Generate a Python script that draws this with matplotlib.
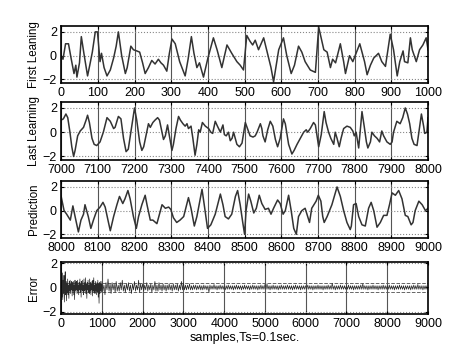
import numpy as np
import matplotlib
matplotlib.use('Agg')
import matplotlib.pyplot as plt

# ---- data ----
first_x = [0, 5, 12, 20, 27, 35, 40, 43, 50, 55, 62, 72, 78, 85, 93, 99, 106, 110, 117, 125,
           134, 143, 150, 156, 165, 175, 180, 190, 197, 206, 214, 222, 229, 238, 247, 256,
           265, 272, 279, 288, 295, 302, 311, 323, 338, 346, 355, 362, 370, 377, 388, 400,
           415, 425, 438, 452, 465, 479, 488, 497, 506, 515, 522, 529, 538, 552, 560, 572,
           579, 593, 606, 615, 627, 636, 647, 656, 665, 679, 693, 702, 716, 725, 734, 740,
           748, 757, 761, 770, 775, 786, 795, 814, 827, 834, 843, 852, 865, 874, 884, 897,
           906, 916, 923, 932, 936, 945, 952, 957, 968, 977, 986, 995, 1000]
first_y = [0.0, -0.3, 1.0, 1.0, -0.2, -1.5, -0.8, -1.8, -0.6, 1.6, 0.2, -1.7, -0.8, 0.3, 2.0, 2.0,
           -0.5, 0.2, -1.0, -1.7, -1.2, -0.2, 0.8, 2.0, 0.0, -1.5, -1.0, 0.8, 0.5, 0.4, 0.3, -0.6,
           -1.5, -1.0, -0.4, -0.7, -0.3, -0.6, -0.8, -1.3, 0.2, 1.4, 1.0, -0.5, -1.7, -0.3, 1.6,
           0.2, -1.0, -0.6, -1.8, -0.2, 1.5, 0.5, -1.0, 0.9, 0.2, -0.5, -0.8, -1.2, 1.7, 1.2, 0.9,
           1.3, 0.5, 1.5, 0.5, -1.0, -2.2, 0.5, 1.5, 0.0, -1.5, -0.8, 0.8, 0.3, -0.5, -1.2, -1.4,
           2.4, 0.5, 0.3, -1.0, -0.3, -0.6, 0.5, 1.0, -0.5, -1.5, 0.0, -0.5, 1.0, -0.5, -1.6,
           -0.8, -0.2, 0.2, -0.5, -0.9, 1.8, 0.5, -1.7, -0.5, 0.4, -0.5, -0.6, 1.5, 0.5, -0.5,
           0.5, 0.9, 1.5, 0.5]

last_x = [7000, 7006, 7013, 7018, 7024, 7029, 7034, 7038, 7045, 7052, 7061, 7068, 7072, 7077,
          7084, 7090, 7097, 7106, 7115, 7125, 7134, 7143, 7147, 7156, 7163, 7170, 7177, 7183,
          7190, 7200, 7206, 7214, 7220, 7225, 7232, 7238, 7243, 7250, 7256, 7263, 7268, 7275,
          7279, 7284, 7290, 7295, 7302, 7306, 7313, 7320, 7325, 7332, 7338, 7343, 7347, 7354,
          7359, 7365, 7370, 7375, 7379, 7385, 7393, 7402, 7408, 7413, 7420, 7426, 7434, 7441,
          7445, 7450, 7456, 7461, 7466, 7470, 7479, 7486, 7493, 7502, 7508, 7515, 7523, 7529,
          7534, 7543, 7547, 7550, 7556, 7563, 7570, 7577, 7584, 7590, 7597, 7606, 7611, 7620,
          7629, 7635, 7643, 7652, 7661, 7668, 7672, 7679, 7688, 7693, 7702, 7709, 7717, 7722,
          7729, 7735, 7743, 7747, 7752, 7758, 7763, 7770, 7779, 7788, 7795, 7799, 7804, 7811,
          7815, 7820, 7826, 7832, 7836, 7843, 7847, 7854, 7861, 7868, 7874, 7879, 7888, 7897,
          7902, 7906, 7915, 7924, 7931, 7938, 7944, 7950, 7956, 7962, 7970, 7982, 7988, 7991,
          7997, 8000]
last_y = [1.0, 1.1, 1.5, 1.2, 0.0, -1.2, -2.0, -1.5, -0.3, 0.1, 0.4, 1.0, 1.4, 0.8, -0.5, -1.0,
          -1.1, -0.8, 0.0, 1.2, 0.9, 0.3, 0.4, 1.3, 1.1, -0.5, -1.6, -1.4, 0.0, 2.0, 1.0, -0.8,
          -1.5, -1.2, -0.2, 0.7, 0.4, 0.8, 1.0, 1.2, 1.0, 0.0, -0.6, -0.3, 0.6, -0.3, -1.5,
          -1.0, 0.3, 1.3, 1.0, 0.7, 0.5, 0.7, 0.3, 0.5, -0.5, -1.9, -1.0, 0.2, 0.0, 0.8, 0.5,
          0.3, 0.0, -0.1, 0.9, 0.5, 0.0, 0.6, -0.2, -0.3, 0.0, -0.7, -0.5, 0.0, -1.0, -1.2,
          -0.9, 0.8, 0.3, -0.3, -0.4, -0.3, 0.0, 0.7, 0.3, -0.3, -0.8, 0.2, 0.9, 0.5, -0.6,
          -1.2, -0.5, 1.1, 0.7, -1.0, -1.8, -1.5, -1.0, -0.5, 0.0, 0.2, 0.0, 0.3, 0.8, 0.6,
          -1.2, -0.2, 1.7, 0.8, 0.0, -0.5, -1.0, 0.0, -0.5, -1.2, -0.5, 0.3, 0.5, 0.4, 0.1,
          -0.3, 0.0, -1.3, 0.0, 1.7, 0.5, -0.8, -1.3, -0.8, 0.0, -0.3, -0.5, -0.8, 0.1, -0.3,
          -0.8, -1.0, -0.8, 0.0, 0.9, 0.7, 1.2, 2.0, 1.5, 0.7, -0.5, -1.0, -1.1, 1.5, 0.5,
          -0.1, 0.0, 1.2]

pred_x = [8000, 8008, 8015, 8025, 8032, 8038, 8047, 8054, 8061, 8065, 8074, 8081, 8088, 8097,
          8106, 8114, 8120, 8129, 8134, 8143, 8152, 8159, 8168, 8174, 8182, 8188, 8197, 8205,
          8211, 8220, 8229, 8234, 8243, 8250, 8261, 8268, 8275, 8284, 8293, 8299, 8306, 8315,
          8324, 8334, 8347, 8354, 8363, 8370, 8384, 8390, 8399, 8408, 8420, 8434, 8441, 8447,
          8456, 8465, 8475, 8481, 8488, 8495, 8500, 8504, 8511, 8517, 8525, 8532, 8540, 8547,
          8556, 8565, 8572, 8579, 8590, 8597, 8605, 8611, 8620, 8627, 8634, 8641, 8647, 8656,
          8665, 8670, 8677, 8683, 8695, 8701, 8708, 8713, 8717, 8725, 8738, 8752, 8761, 8770,
          8779, 8788, 8791, 8797, 8804, 8811, 8820, 8829, 8838, 8845, 8852, 8861, 8870, 8879,
          8888, 8895, 8902, 8911, 8920, 8929, 8938, 8945, 8954, 8959, 8965, 8975, 8984, 8993,
          9000]
pred_y = [1.2, 0.0, -0.3, -0.8, 0.4, -0.5, -1.8, -0.8, -0.3, 0.5, -0.5, -1.5, -0.8, 0.0, 0.3,
          0.7, 0.3, -1.0, -1.7, -0.5, 0.5, 1.2, 0.6, 1.0, 1.7, 1.0, -0.5, -1.5, -0.5, 0.5, 1.3,
          0.5, -0.8, -0.8, -1.1, -0.3, 0.5, 0.2, 0.3, 0.1, -0.6, -1.0, -0.8, -0.5, 1.1, 0.2,
          -1.3, -0.5, 1.8, 0.5, -1.5, -1.2, -0.3, 1.4, 0.5, -0.5, -0.7, -0.3, 1.2, 1.7, 0.5,
          -1.0, -2.0, 0.0, 1.4, 0.8, -0.2, 0.2, 1.3, 0.6, 0.1, 0.2, -0.3, 0.2, 0.9, 0.6, -0.3,
          0.0, 1.3, 0.0, -1.5, -2.0, -0.5, 0.0, 0.2, -0.3, -1.0, 0.2, 0.8, 1.3, 0.8, -0.5, -1.0,
          -0.5, 0.5, 2.0, 1.2, 0.0, -1.0, -1.6, -1.3, 0.5, 0.6, -0.5, -1.2, -1.3, 0.2, 0.7, 0.0,
          -1.4, -1.0, -0.4, -0.4, 0.5, 1.5, 1.3, 1.7, 1.0, -0.4, -0.5, -1.2, -1.0, 0.0, 0.8,
          0.5, 0.0, 0.2]

# error: step 10 for samples 0..990, then step 25 from 1000 to 9000
err_early = [0.0, 1.6, -0.8, 1.2, -1.0, 0.6, -0.5, 1.0, -1.2, 0.4,
             1.3, -0.6, 0.5, -1.1, 0.3, -0.4, 0.7, -0.6, 0.2, -0.9,
             0.5, -0.3, 0.6, -0.5, 0.3, -0.2, 0.5, -0.7, 0.4, -0.3,
             0.5, -0.6, 0.2, -1.0, 0.6, -0.3, 0.4, -0.2, 0.5, -0.5,
             0.6, -0.3, 0.2, -0.6, 0.4, -0.2, 0.7, -0.4, 0.3, -0.8,
             0.5, -0.2, 0.6, -0.3, 0.2, -0.6, 0.7, -0.3, 0.4, -0.2,
             0.8, -0.5, 0.3, -0.9, 0.4, -0.2, 0.6, -0.4, 0.2, -0.5,
             0.7, -0.3, 0.4, -0.6, 0.3, -0.2, 0.5, -0.7, 0.6, -0.3,
             0.8, -0.4, 0.2, -0.5, 0.5, -0.3, 0.3, -0.6, 0.4, -0.4,
             0.6, -0.8, 0.3, -1.3, 0.4, -0.5, 0.5, -0.3, 0.3, -0.4]
err_late = [
    0.5, -0.3, 0.2, -0.6, 0.4, -0.2, 0.7, -0.3, 0.3, -0.5, 0.4, -0.2, 0.3, -0.4, 0.5, -0.3, 0.2, -0.3, 0.4, -0.2,
    0.6, -0.3, 0.2, -0.4, 0.3, -0.2, 0.4, -0.3, 0.2, -0.5, 0.3, -0.2, 0.5, -0.3, 0.2, -0.2, 0.6, -0.4, 0.3, -0.2,
    0.3, -0.3, 0.2, -0.2, 0.4, -0.3, 0.2, -0.2, 0.3, -0.4, 0.2, -0.2, 0.5, -0.3, 0.2, -0.3, 0.4, -0.2, 0.2, -0.3,
    0.3, -0.2, 0.2, -0.3, 0.2, -0.2, 0.3, -0.2, 0.2, -0.3, 0.3, -0.2, 0.2, -0.2, 0.3, -0.3, 0.2, -0.2, 0.5, -0.2,
    0.4, -0.2, 0.2, -0.2, 0.2, -0.15, 0.3, -0.2, 0.15, -0.2, 0.2, -0.15, 0.2, -0.2, 0.15, -0.15, 0.2, -0.2, 0.15, -0.2,
    0.2, -0.15, 0.15, -0.2, 0.15, -0.4, 0.2, -0.15, 0.15, -0.15, 0.25, -0.15, 0.15, -0.2, 0.15, -0.15, 0.2, -0.15, 0.15, -0.15,
    0.15, -0.2, 0.15, -0.15, 0.2, -0.15, 0.15, -0.15, 0.15, -0.2, 0.15, -0.15, 0.2, -0.15, 0.15, -0.15, 0.15, -0.2, 0.15, -0.15,
    0.2, -0.15, 0.15, -0.15, 0.15, -0.2, 0.15, -0.15, 0.2, -0.15, 0.15, -0.15, 0.15, -0.2, 0.15, -0.15, 0.2, -0.15, 0.15, -0.15,
    0.25, -0.15, 0.3, -0.15, 0.15, -0.2, 0.15, -0.15, 0.2, -0.15, 0.15, -0.15, 0.15, -0.2, 0.15, -0.15, 0.2, -0.15, 0.15, -0.15,
    0.15, -0.15, 0.2, -0.15, 0.15, -0.15, 0.15, -0.2, 0.15, -0.15, 0.2, -0.15, 0.15, -0.15, 0.15, -0.2, 0.15, -0.15, 0.15, -0.15,
    0.15, -0.15, 0.2, -0.15, 0.15, -0.15, 0.15, -0.2, 0.15, -0.15, 0.15, -0.15, 0.2, -0.15, 0.15, -0.15, 0.15, -0.2, 0.15, -0.15,
    0.15, -0.15, 0.2, -0.15, 0.15, -0.15, 0.35, -0.15, 0.15, -0.2, 0.15, -0.15, 0.15, -0.15, 0.2, -0.15, 0.15, -0.15, 0.15, -0.15,
    0.15, -0.15, 0.2, -0.15, 0.15, -0.15, 0.15, -0.2, 0.15, -0.15, 0.15, -0.15, 0.15, -0.15, 0.2, -0.15, 0.3, -0.15, 0.15, -0.15,
    0.15, -0.2, 0.15, -0.15, 0.15, -0.15, 0.2, -0.15, 0.15, -0.15, 0.15, -0.2, 0.15, -0.15, 0.15, -0.15, 0.2, -0.15, 0.15, -0.15,
    0.15, -0.15, 0.2, -0.15, 0.15, -0.15, 0.15, -0.2, 0.15, -0.15, 0.15, -0.15, 0.2, -0.15, 0.15, -0.15, 0.15, -0.2, 0.15, -0.15,
    0.15, -0.15, 0.15, -0.2, 0.15, -0.15, 0.2, -0.15, 0.15, -0.15, 0.25, -0.15, 0.15, -0.15, 0.15, -0.2, 0.15, -0.15, 0.15, -0.15,
    0.0]
err_x = list(np.arange(len(err_early)) * 10) + list(1000 + np.arange(len(err_late)) * 25)
err_y = err_early + err_late

panels = [
    (first_x, first_y, 'First Leaning', (0, 1000), np.arange(0, 1001, 100)),
    (last_x, last_y, 'Last Learning', (7000, 8000), np.arange(7000, 8001, 100)),
    (pred_x, pred_y, 'Prediction', (8000, 9000), np.arange(8000, 9001, 100)),
    (err_x, err_y, 'Error', (0, 9000), np.arange(0, 9001, 1000)),
]

# axes boxes in figure fractions (left, bottom, width, height)
boxes = [
    (0.129, 0.766, 0.774, 0.161),
    (0.129, 0.549, 0.774, 0.164),
    (0.129, 0.330, 0.774, 0.160),
    (0.129, 0.115, 0.774, 0.147),
]

plt.rcParams['font.family'] = ['Liberation Sans', 'DejaVu Sans']
fig = plt.figure(figsize=(4.74, 3.55), dpi=100)

for (x, y, label, xlim, xt), box in zip(panels, boxes):
    ax = fig.add_axes(box)
    is_err = label == 'Error'
    ax.plot(x, y, color='#2a2a2a' if is_err else '#333333', lw=0.5 if is_err else 1.1)
    ax.set_xlim(*xlim)
    ax.set_ylim(-2.2, 2.1) if is_err else ax.set_ylim(-2.3, 2.5)
    ax.set_xticks(xt)
    ax.set_yticks([-2, 0, 2])
    ax.set_ylabel(label, fontsize=8.3, labelpad=2)
    ax.tick_params(direction='in', labelsize=9, length=2, pad=3, top=True, right=True)
    ax.grid(axis='x', color='#555555', lw=0.8)
    ax.grid(axis='y', color='#888888', lw=0.8, ls=':')
    ax.set_axisbelow(True)
    if is_err:
        for lev in (0.4, -0.4):
            ax.axhline(lev, color='#666666', lw=0.7, ls='--', zorder=0)
        ax.set_xlabel('samples,Ts=0.1sec.', fontsize=9, labelpad=1)
    for s in ax.spines.values():
        s.set_linewidth(1.2)

fig.savefig('out.png', dpi=100)
